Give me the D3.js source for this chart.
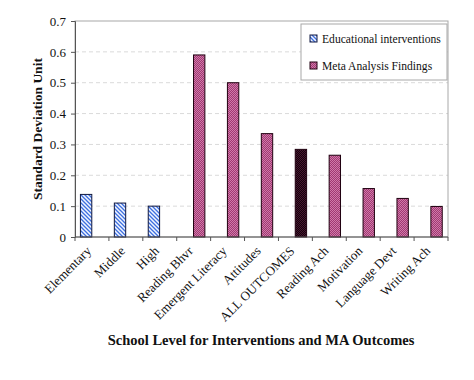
<!DOCTYPE html>
<html><head><meta charset="utf-8">
<script src="https://cdn.jsdelivr.net/npm/d3@7"></script>
<style>body{margin:0;background:#fff}svg{display:block}text{font-family:"Liberation Serif","Times New Roman",serif}</style>
</head><body><svg id="c" width="474" height="380"></svg>
<script>
const categories = ["Elementary","Middle","High","Reading Bhvr","Emergent Literacy","Attitudes","ALL OUTCOMES","Reading Ach","Motivation","Language Devt","Writing Ach"];
const seriesNames = ["Educational interventions","Meta Analysis Findings"];
const eduValues = [0.138, 0.11, 0.10, null, null, null, null, null, null, null, null];
const maValues = [null, null, null, 0.59, 0.50, 0.335, 0.284, 0.265, 0.157, 0.125, 0.099];
const highlight = ["ALL OUTCOMES"];
const yTicks = [0,0.1,0.2,0.3,0.4,0.5,0.6,0.7];

const svg = d3.select("#c");
const m = {l:75, r:26, t:21, b:143};
const W = 474, H = 380;
const iw = W - m.l - m.r, ih = H - m.t - m.b;
const defs = svg.append("defs");
const pb = defs.append("pattern").attr("id","pBlue").attr("patternUnits","userSpaceOnUse").attr("width",4).attr("height",4);
pb.append("rect").attr("width",4).attr("height",4).attr("fill","#f2f6ff");
pb.append("path").attr("d","M-1,3 L1,5 M-1,-1 L5,5 M3,-1 L5,1").attr("stroke","#3d6fe0").attr("stroke-width",1.3);
const pp = defs.append("pattern").attr("id","pPink").attr("patternUnits","userSpaceOnUse").attr("width",2).attr("height",2);
pp.append("rect").attr("width",2).attr("height",2).attr("fill","#a13872");
pp.append("rect").attr("width",1).attr("height",1).attr("fill","#cf7aa9");
pp.append("rect").attr("x",1).attr("y",1).attr("width",1).attr("height",1).attr("fill","#cf7aa9");
const pd = defs.append("pattern").attr("id","pDark").attr("patternUnits","userSpaceOnUse").attr("width",2).attr("height",2);
pd.append("rect").attr("width",2).attr("height",2).attr("fill","#12040b");
pd.append("rect").attr("width",1).attr("height",1).attr("fill","#4a1430");
pd.append("rect").attr("x",1).attr("y",1).attr("width",1).attr("height",1).attr("fill","#4a1430");

const g = svg.append("g").attr("transform",`translate(${m.l},${m.t})`);
const x = d3.scaleBand().domain(categories).range([0,iw]);
const xs = d3.scaleBand().domain(seriesNames).range([x.bandwidth()*0.16, x.bandwidth()*0.83]);
const y = d3.scaleLinear().domain([0,0.7]).range([ih,0]);

// grid
g.selectAll(".grid").data(yTicks.filter(v=>v>0&&v<0.7)).join("line")
 .attr("x1",0).attr("x2",iw).attr("y1",d=>y(d)).attr("y2",d=>y(d))
 .attr("stroke","#dadada").attr("stroke-dasharray","4,3").attr("stroke-width",1);
// frame
g.append("rect").attr("x",0).attr("y",0).attr("width",iw).attr("height",ih).attr("fill","none").attr("stroke","#a8a8a8");

// bars
const rows = categories.map((c,i)=>({c, e:eduValues[i], m:maValues[i]}));
g.selectAll(".be").data(rows.filter(d=>d.e!=null)).join("rect")
 .attr("x",d=>x(d.c)+xs(seriesNames[0])).attr("width",xs.bandwidth())
 .attr("y",d=>y(d.e)).attr("height",d=>ih-y(d.e))
 .attr("fill","url(#pBlue)").attr("stroke","#101840").attr("stroke-width",1);
g.selectAll(".bm").data(rows.filter(d=>d.m!=null)).join("rect")
 .attr("x",d=>x(d.c)+xs(seriesNames[1])).attr("width",xs.bandwidth())
 .attr("y",d=>y(d.m)).attr("height",d=>ih-y(d.m))
 .attr("fill",d=>highlight.includes(d.c)?"url(#pDark)":"url(#pPink)").attr("stroke","#200010").attr("stroke-width",1);

// y axis
const ya = g.append("g").call(d3.axisLeft(y).tickValues(yTicks).tickFormat(d=>d===0?"0":d3.format(".1f")(d)).tickSize(4).tickPadding(5));
ya.select(".domain").attr("stroke","#555");
ya.selectAll(".tick line").attr("stroke","#555");
ya.selectAll("text").attr("font-size",13).attr("fill","#111").style("font-family","Liberation Serif");

// x axis
const xa = g.append("g").attr("transform",`translate(0,${ih})`);
xa.append("line").attr("x1",0).attr("x2",iw).attr("stroke","#555");
xa.selectAll(".tk").data(d3.range(categories.length+1)).join("line")
 .attr("x1",i=>i*x.step()).attr("x2",i=>i*x.step()).attr("y1",0).attr("y2",4).attr("stroke","#555");
xa.selectAll(".lb").data(categories).join("text")
 .attr("transform",d=>`translate(${x(d)+x.bandwidth()*0.42},12) rotate(-45)`)
 .attr("text-anchor","end").attr("font-size",13).attr("fill","#111").attr("dy","0.3em").text(d=>d);

// titles
svg.append("text").attr("x",261).attr("y",345).attr("text-anchor","middle").attr("font-size",14.5).attr("font-weight","bold").attr("fill","#111")
 .text("School Level for Interventions and MA Outcomes");
svg.append("text").attr("transform","translate(42,129) rotate(-90)").attr("text-anchor","middle").attr("font-size",13.5).attr("font-weight","bold").attr("fill","#111")
 .text("Standard Deviation Unit");

// legend
const lg = svg.append("g").attr("transform","translate(301,24)");
lg.append("rect").attr("width",146).attr("height",56).attr("fill","#fff").attr("stroke","#a8a8a8");
const fills = ["url(#pBlue)","url(#pPink)"];
const strokes = ["#101840","#200010"];
seriesNames.forEach((s,i)=>{
  lg.append("rect").attr("x",9).attr("y",11+i*27).attr("width",7).attr("height",7).attr("fill",fills[i]).attr("stroke",strokes[i]);
  lg.append("text").attr("x",21).attr("y",15+i*27).attr("dy","0.35em").attr("font-size",11.6).attr("fill","#111").text(s);
});
</script></body></html>
